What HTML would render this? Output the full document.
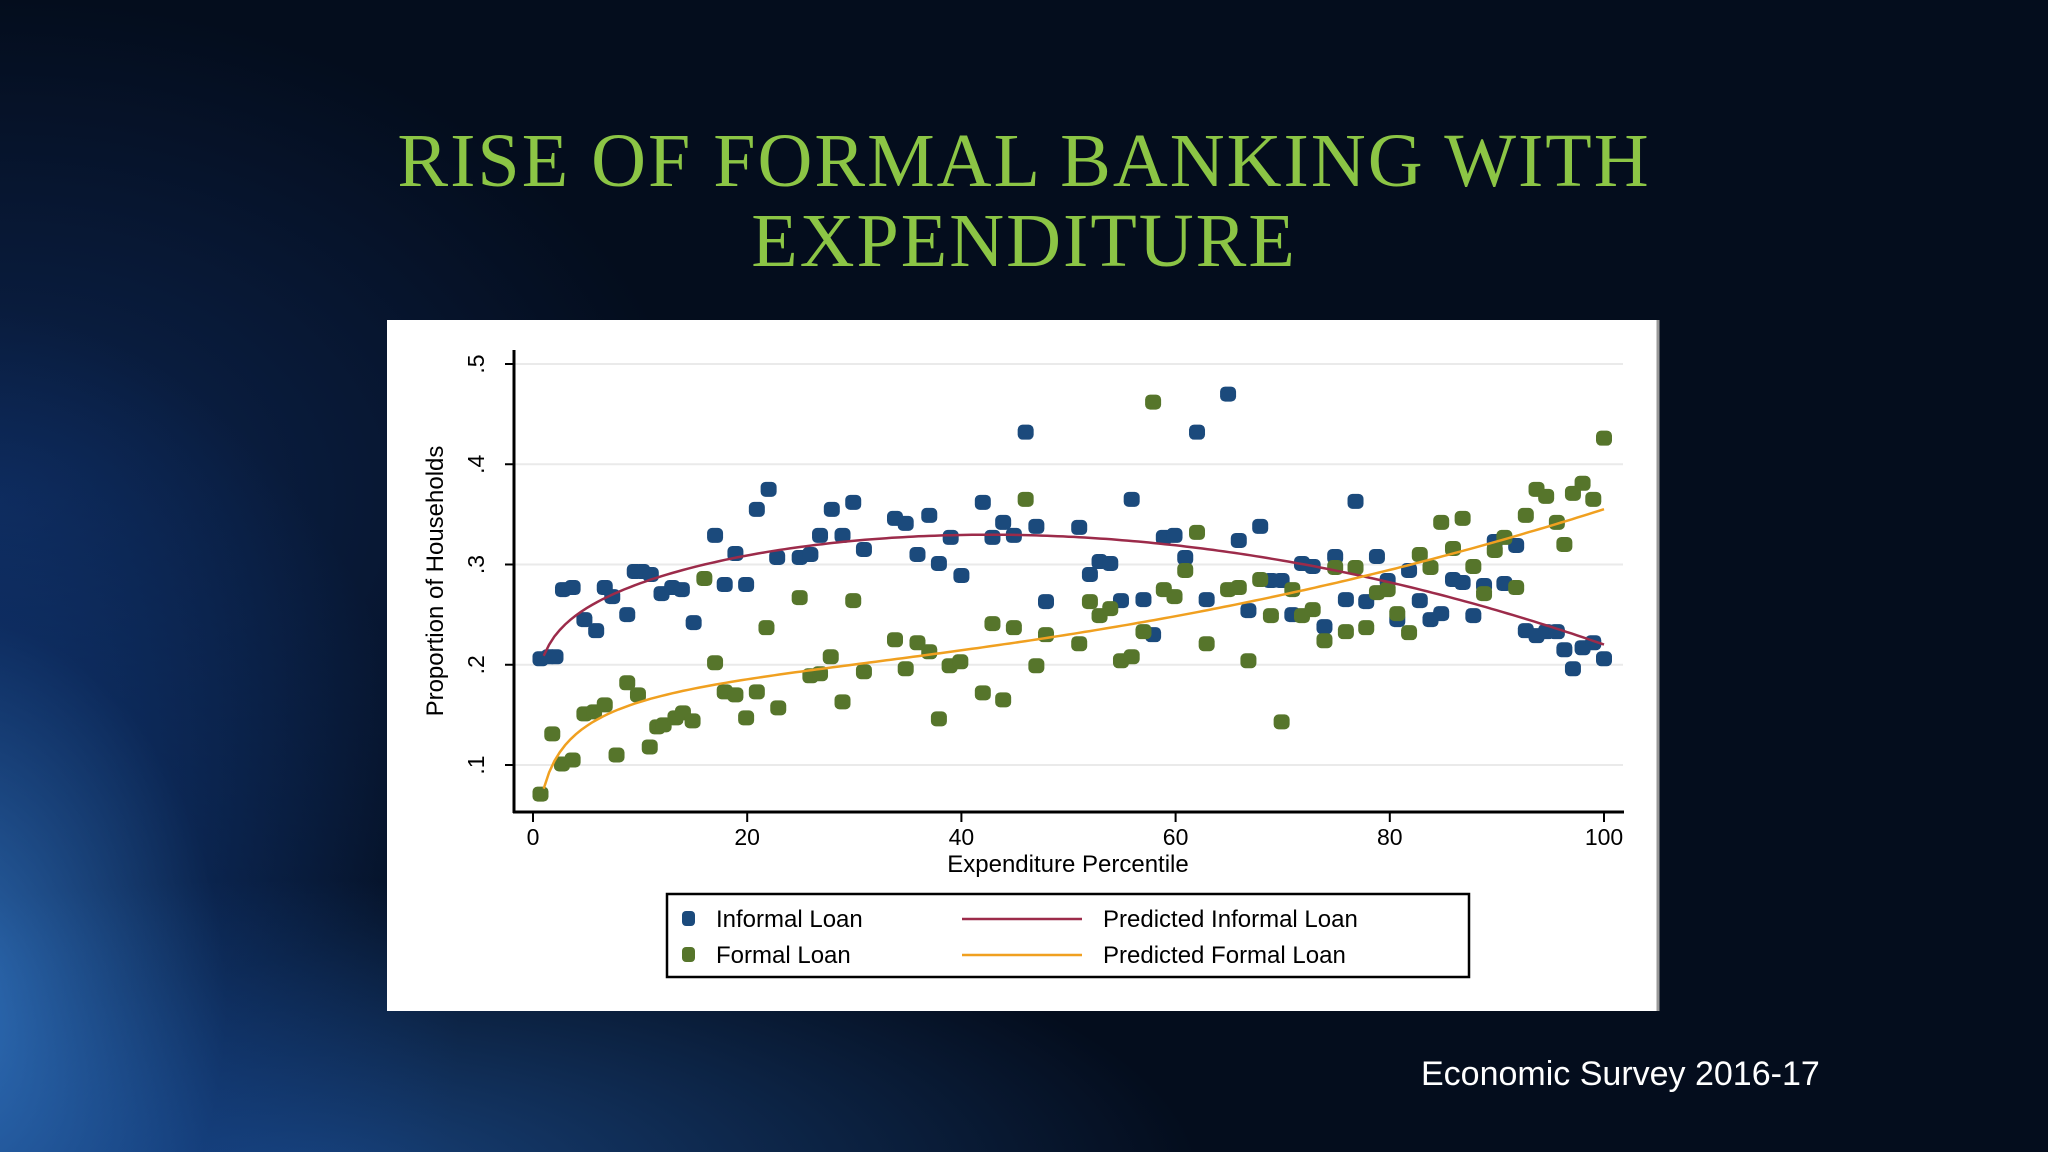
<!DOCTYPE html>
<html><head><meta charset="utf-8"><style>
html,body{margin:0;padding:0;}
body{width:2048px;height:1152px;overflow:hidden;position:relative;
background:
radial-gradient(ellipse 520px 700px at -60px 1000px, rgba(60,140,230,0.75), rgba(20,70,150,0.35) 55%, rgba(5,14,31,0) 100%),
radial-gradient(ellipse 900px 300px at 300px 1180px, rgba(40,110,200,0.55), rgba(5,14,31,0) 100%),
radial-gradient(ellipse 700px 500px at 0px 500px, rgba(20,60,130,0.5), rgba(5,14,31,0) 100%),
#040d1d;
font-family:"Liberation Sans",sans-serif;}
.title{position:absolute;left:0;width:2048px;text-align:center;color:#8cc545;font-family:"Liberation Serif",serif;font-size:76px;letter-spacing:2px;line-height:80px;top:121px;}
.footer{position:absolute;left:1421px;top:1055px;color:#fff;font-size:34px;}
svg{position:absolute;left:0;top:0;}
</style></head><body>
<div class="title">RISE OF FORMAL BANKING WITH<br>EXPENDITURE</div>
<div class="footer">Economic Survey 2016-17</div>
<svg id="chart" width="2048" height="1152"></svg>
<script>
const informalX=[0.7,1.5,2.1,2.8,3.7,4.8,5.9,6.7,7.4,8.8,9.5,10.2,11,12,13,13.9,15,17,17.9,18.9,19.9,20.9,22,22.8,24.9,25.9,26.8,27.9,28.9,29.9,30.9,33.8,34.8,35.9,37,37.9,39,40,42,42.9,43.9,44.9,46,47,47.9,51,52,52.9,53.9,54.9,55.9,57,57.9,58.9,59.9,60.9,62,62.9,64.9,65.9,66.8,67.9,68.9,69.9,70.9,71.8,72.8,73.9,74.9,75.9,76.8,77.8,78.8,79.8,80.7,81.8,82.8,83.8,84.8,85.9,86.8,87.8,88.8,89.8,90.7,91.8,92.7,93.7,94.6,95.6,96.3,97.1,98,99,100];
const informalY=[.206,.208,.208,.275,.277,.245,.234,.277,.268,.250,.293,.293,.290,.271,.277,.275,.242,.329,.280,.311,.280,.355,.375,.307,.307,.310,.329,.355,.329,.362,.315,.346,.341,.310,.349,.301,.327,.289,.362,.327,.342,.329,.432,.338,.263,.337,.290,.303,.301,.264,.365,.265,.230,.327,.329,.307,.432,.265,.470,.324,.254,.338,.284,.284,.250,.301,.298,.238,.308,.265,.363,.263,.308,.284,.245,.294,.264,.245,.251,.285,.282,.249,.279,.323,.281,.319,.234,.229,.233,.233,.215,.196,.217,.222,.206];
const formalX=[0.7,1.8,2.7,3.7,4.8,5.7,6.7,7.8,8.8,9.8,10.9,11.6,12.2,13.3,14,14.9,16,17,17.9,18.9,19.9,20.9,21.8,22.9,24.9,25.9,26.8,27.8,28.9,29.9,30.9,33.8,34.8,35.9,37,37.9,38.9,39.9,42,42.9,43.9,44.9,46,47,47.9,51,52,52.9,53.9,54.9,55.9,57,57.9,58.9,59.9,60.9,62,62.9,64.9,65.9,66.8,67.9,68.9,69.9,70.9,71.8,72.8,73.9,74.9,75.9,76.8,77.8,78.8,79.8,80.7,81.8,82.8,83.8,84.8,85.9,86.8,87.8,88.8,89.8,90.7,91.8,92.7,93.7,94.6,95.6,96.3,97.1,98,99,100];
const formalY=[.071,.131,.101,.105,.151,.153,.160,.110,.182,.170,.118,.138,.140,.147,.152,.144,.286,.202,.173,.170,.147,.173,.237,.157,.267,.189,.191,.208,.163,.264,.193,.225,.196,.222,.213,.146,.199,.203,.172,.241,.165,.237,.365,.199,.230,.221,.263,.249,.256,.204,.208,.233,.462,.275,.268,.294,.332,.221,.275,.277,.204,.285,.249,.143,.275,.249,.255,.224,.297,.233,.297,.237,.272,.275,.251,.232,.310,.297,.342,.316,.346,.298,.271,.314,.327,.277,.349,.375,.368,.342,.320,.371,.381,.365,.426];
const xTicks=[0,20,40,60,80,100];
const yTicks=[.1,.2,.3,.4,.5];
const yTickLabels=[".1",".2",".3",".4",".5"];

const NS="http://www.w3.org/2000/svg";
const svg=document.getElementById('chart');
function sx(v){return 533+(v-0)*(1604-533)/100;}
function sy(v){return 765-(v-0.1)*(765-364)/0.4;}
function mk(tag,attrs,parent){const e=document.createElementNS(NS,tag);for(const k in attrs)e.setAttribute(k,attrs[k]);(parent||svg).appendChild(e);return e;}

let e;
e=mk('rect',{x:387,y:320,width:1270,height:691,fill:'#fff'});


mk('line',{x1:1658,y1:320,x2:1658,y2:1011,stroke:'#999','stroke-width':3});
yTicks.forEach((t,i)=>{
  e=mk('line',{x1:515,x2:1623,y1:sy(t),y2:sy(t),stroke:'#eaeaea','stroke-width':2});
  
  
  mk('line',{x1:505,x2:514,y1:sy(t),y2:sy(t),stroke:'#000','stroke-width':2});
  e=mk('text',{x:0,y:0,transform:`translate(484,${sy(t)}) rotate(-90)`,'text-anchor':'middle','font-size':23,fill:'#000'});
  e.textContent=yTickLabels[i];
  
  
});
xTicks.forEach(t=>{
  mk('line',{x1:sx(t),x2:sx(t),y1:812,y2:822,stroke:'#000','stroke-width':2});
  e=mk('text',{x:sx(t),y:845,'text-anchor':'middle','font-size':23,fill:'#000'});
  e.textContent=t;
  
  
});
e=mk('line',{x1:514,y1:350,x2:514,y2:813,stroke:'#000','stroke-width':3});


e=mk('line',{x1:513,y1:812,x2:1624,y2:812,stroke:'#000','stroke-width':3});


e=mk('text',{x:1068,y:872,'text-anchor':'middle','font-size':24,fill:'#000'});
e.textContent='Expenditure Percentile';


e=mk('text',{x:0,y:0,transform:'translate(443,581) rotate(-90)','text-anchor':'middle','font-size':24,fill:'#000'});
e.textContent='Proportion of Households';



function fit(xs,ys){
  const n=4,A=[],B=[0,0,0,0];
  for(let i=0;i<n;i++)A.push([0,0,0,0]);
  xs.forEach((x,k)=>{const f=[1,Math.log(x),x/100,(x/100)*(x/100)];
    for(let i=0;i<n;i++){B[i]+=f[i]*ys[k];for(let j=0;j<n;j++)A[i][j]+=f[i]*f[j];}});
  for(let i=0;i<n;i++){let p=i;for(let r=i+1;r<n;r++)if(Math.abs(A[r][i])>Math.abs(A[p][i]))p=r;
    [A[i],A[p]]=[A[p],A[i]];[B[i],B[p]]=[B[p],B[i]];
    for(let r=0;r<n;r++){if(r===i)continue;const m=A[r][i]/A[i][i];for(let c=i;c<n;c++)A[r][c]-=m*A[i][c];B[r]-=m*B[i];}}
  const co=B.map((b,i)=>b/A[i][i]);
  return x=>co[0]+co[1]*Math.log(x)+co[2]*x/100+co[3]*(x/100)*(x/100);
}
function curve(xs,ys,color,name){
  const f=fit(xs,ys);let d='';
  for(let x=1;x<=100;x+=0.5){d+=(x===1?'M':'L')+sx(x).toFixed(1)+','+sy(f(x)).toFixed(1);}
  const p=mk('path',{d:d,fill:'none',stroke:color,'stroke-width':2.5});
  
  
}
function pts(xs,ys,color,name){
  xs.forEach((x,i)=>{
    const c=mk('rect',{x:sx(x)-8,y:sy(ys[i])-7.5,width:16,height:15,rx:5,fill:color});
    
    
  });
}
pts(informalX,informalY,'#1b4a7c','informal-loan-point');
pts(formalX,formalY,'#56752b','formal-loan-point');
curve(informalX,informalY,'#9c2b4a','predicted-informal-line');
curve(formalX,formalY,'#f0a020','predicted-formal-line');

const lg=mk('g',{});


mk('rect',{x:667,y:894,width:802,height:83,fill:'#fff',stroke:'#000','stroke-width':2.5},lg);
const items=[['Informal Loan',1,'#1b4a7c',919],['Formal Loan',1,'#56752b',955]];
items.forEach(it=>{
  mk('rect',{x:682,y:it[3]-8,width:13,height:15,rx:4,fill:it[2]},lg);
  e=mk('text',{x:716,y:it[3]+8,'font-size':24,fill:'#000'},lg);
  e.textContent=it[0];
  
  
});
[['Predicted Informal Loan','#9c2b4a',919],['Predicted Formal Loan','#f0a020',955]].forEach(it=>{
  mk('line',{x1:962,x2:1082,y1:it[2],y2:it[2],stroke:it[1],'stroke-width':2.5},lg);
  e=mk('text',{x:1103,y:it[2]+8,'font-size':24,fill:'#000'},lg);
  e.textContent=it[0];
  
  
});
</script>
</body></html>
